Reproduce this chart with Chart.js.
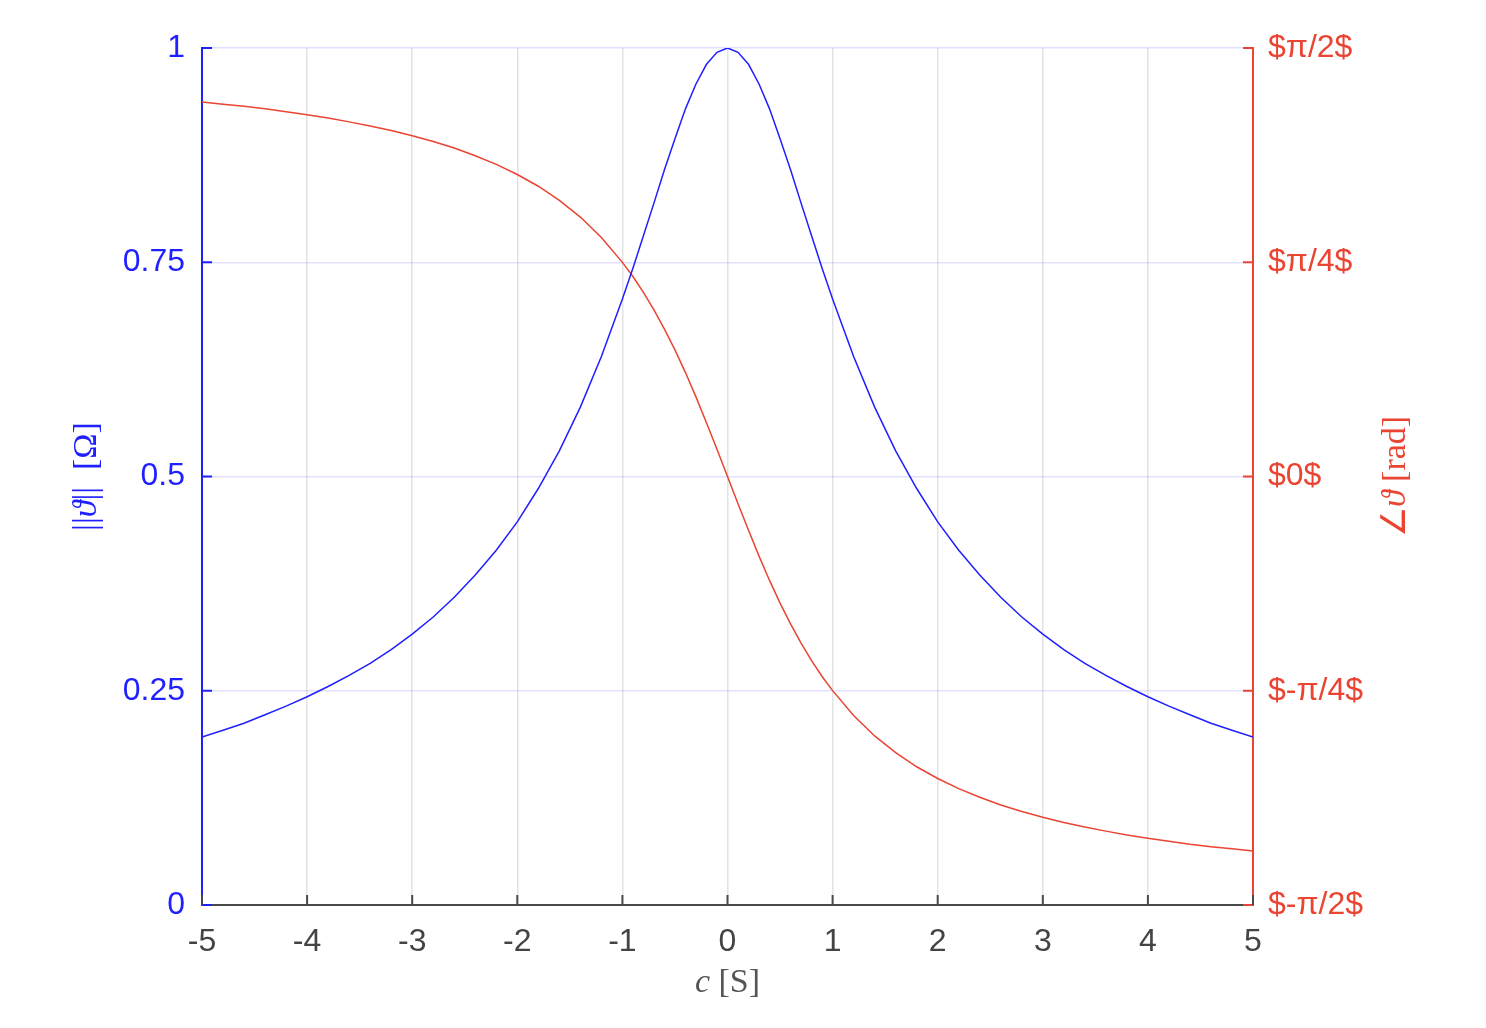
<!DOCTYPE html>
<html>
<head>
<meta charset="utf-8">
<script src="https://cdn.jsdelivr.net/npm/chart.js@4.4.1/dist/chart.umd.min.js"></script>
<style>
html, body { margin: 0; padding: 0; background: #fff; }
#wrap { width: 1486px; height: 1028px; position: relative; }
</style>
</head>
<body>
<div id="wrap"><canvas id="chart_magnitudePhase"></canvas></div>
<script>
// values; finer steps near the peak
var cValues = [
    -5, -4.8, -4.6, -4.4, -4.2, -4, -3.8, -3.6, -3.4, -3.2, -3, -2.8, -2.6, -2.4, -2.2, -2, -1.8, -1.6, -1.4, -1.2,
    -1, -0.9, -0.8, -0.7, -0.6, -0.5, -0.4, -0.3, -0.2, -0.1,
    0, 0.1, 0.2, 0.3, 0.4, 0.5, 0.6, 0.7, 0.8, 0.9,
    1, 1.2, 1.4, 1.6, 1.8, 2, 2.2, 2.4, 2.6, 2.8, 3, 3.2, 3.4, 3.6, 3.8, 4, 4.2, 4.4, 4.6, 4.8, 5
];
var magnitude = [
    0.196, 0.204, 0.212, 0.222, 0.232, 0.243, 0.255, 0.268, 0.282, 0.298, 0.316, 0.336, 0.359, 0.385, 0.414, 0.447, 0.486, 0.530, 0.581, 0.640,
    0.707, 0.743, 0.781, 0.819, 0.858, 0.894, 0.929, 0.958, 0.981, 0.995,
    1.000, 0.995, 0.981, 0.958, 0.929, 0.894, 0.858, 0.819, 0.781, 0.743,
    0.707, 0.640, 0.581, 0.530, 0.486, 0.447, 0.414, 0.385, 0.359, 0.336, 0.316, 0.298, 0.282, 0.268, 0.255, 0.243, 0.232, 0.222, 0.212, 0.204, 0.196
];
var phase = [
    1.373, 1.365, 1.357, 1.348, 1.337, 1.326, 1.314, 1.300, 1.285, 1.268, 1.249, 1.228, 1.204, 1.176, 1.144, 1.107, 1.064, 1.012, 0.951, 0.876,
    0.785, 0.733, 0.675, 0.611, 0.540, 0.464, 0.381, 0.292, 0.197, 0.100,
    0, -0.100, -0.197, -0.292, -0.381, -0.464, -0.540, -0.611, -0.675, -0.733,
    -0.785, -0.876, -0.951, -1.012, -1.064, -1.107, -1.144, -1.176, -1.204, -1.228, -1.249, -1.268, -1.285, -1.300, -1.314, -1.326, -1.337, -1.348, -1.357, -1.365, -1.373
];
var magTicks = [0, 0.25, 0.5, 0.75, 1];
var magTickLabels = ['0', '0.25', '0.5', '0.75', '1'];
var phaseTicks = [-1.5708, -0.7854, 0, 0.7854, 1.5708];
var phaseTickLabels = ['$-\u03c0/2$', '$-\u03c0/4$', '$0$', '$\u03c0/4$', '$\u03c0/2$'];
var cTicks = [-5, -4, -3, -2, -1, 0, 1, 2, 3, 4, 5];

var BLUE = '#1f1fff';
var RED = '#ea4433';
var GREY = '#444444';
var TICK_FONT = { family: '"Liberation Sans", Arial, sans-serif', size: 32 };
var TITLE_FAMILY = '"Liberation Serif", "Times New Roman", serif';

function pairs(xs, ys) {
    return xs.map(function (x, i) { return { x: x, y: ys[i] }; });
}

// draws a title made of normal / italic pieces, centred on (cx, cy)
function drawTitle(ctx, parts, cx, cy, rot, color, size) {
    ctx.save();
    ctx.translate(cx, cy);
    ctx.rotate(rot);
    ctx.fillStyle = color;
    ctx.textBaseline = 'middle';
    ctx.textAlign = 'left';
    var total = 0;
    parts.forEach(function (p) {
        ctx.font = (p.italic ? 'italic ' : '') + size + 'px ' + TITLE_FAMILY;
        p.w = ctx.measureText(p.text).width;
        total += p.w;
    });
    var x = -total / 2;
    parts.forEach(function (p) {
        ctx.font = (p.italic ? 'italic ' : '') + size + 'px ' + TITLE_FAMILY;
        ctx.fillText(p.text, x, 0);
        x += p.w;
    });
    ctx.restore();
}

var chart_magnitudePhase = new Chart(document.getElementById('chart_magnitudePhase'), {
    type: 'line',
    data: {
        datasets: [
            {
                label: 'magnitude',
                data: pairs(cValues, magnitude),
                yAxisID: 'y',
                borderColor: BLUE,
                borderWidth: 1.5,
                pointRadius: 0,
                tension: 0
            },
            {
                label: 'phase',
                data: pairs(cValues, phase),
                yAxisID: 'y2',
                borderColor: RED,
                borderWidth: 1.5,
                pointRadius: 0,
                tension: 0
            }
        ]
    },
    options: {
        animation: false,
        responsive: true,
        maintainAspectRatio: false,
        layout: { padding: { top: 48, left: 0, right: 0, bottom: 0 } },
        plugins: {
            legend: { display: false },
            tooltip: { enabled: false }
        },
        scales: {
            x: {
                type: 'linear',
                min: -5,
                max: 5,
                afterBuildTicks: function (scale) {
                    scale.ticks = cTicks.map(function (v) { return { value: v }; });
                },
                afterFit: function (scale) { scale.height = 123; },
                ticks: {
                    color: GREY,
                    font: TICK_FONT,
                    padding: 18,
                    maxRotation: 0,
                    autoSkip: false,
                    callback: function (value) { return String(value); }
                },
                grid: { color: '#e3e3e3', lineWidth: 1.5, drawTicks: false },
                border: { color: '#4a4a4a', width: 2 }
            },
            y: {
                type: 'linear',
                position: 'left',
                min: 0,
                max: 1,
                afterBuildTicks: function (scale) {
                    scale.ticks = magTicks.map(function (v) { return { value: v }; });
                },
                afterFit: function (scale) { scale.width = 202; },
                ticks: {
                    color: BLUE,
                    font: TICK_FONT,
                    padding: 17,
                    callback: function (value, index) { return magTickLabels[index]; }
                },
                grid: { color: 'rgba(40,40,255,0.14)', lineWidth: 1.5, drawTicks: false },
                border: { color: BLUE, width: 2 }
            },
            y2: {
                type: 'linear',
                position: 'right',
                min: -1.5708,
                max: 1.5708,
                afterBuildTicks: function (scale) {
                    scale.ticks = phaseTicks.map(function (v) { return { value: v }; });
                },
                afterFit: function (scale) { scale.width = 233; },
                ticks: {
                    color: RED,
                    font: TICK_FONT,
                    padding: 15,
                    callback: function (value, index) { return phaseTickLabels[index]; }
                },
                grid: { drawOnChartArea: false, drawTicks: false },
                border: { color: RED, width: 2 }
            }
        }
    },
    plugins: [{
        id: 'insideTicksAndTitles',
        afterDraw: function (chart) {
            var ctx = chart.ctx;
            var area = chart.chartArea;
            var len = 10;
            ctx.save();
            ctx.lineWidth = 2;
            ctx.strokeStyle = BLUE;
            magTicks.forEach(function (v) {
                var y = chart.scales.y.getPixelForValue(v);
                ctx.beginPath(); ctx.moveTo(area.left, y); ctx.lineTo(area.left + len, y); ctx.stroke();
            });
            ctx.strokeStyle = RED;
            phaseTicks.forEach(function (v) {
                var y = chart.scales.y2.getPixelForValue(v);
                ctx.beginPath(); ctx.moveTo(area.right, y); ctx.lineTo(area.right - len, y); ctx.stroke();
            });
            ctx.strokeStyle = '#4a4a4a';
            cTicks.forEach(function (v) {
                var x = chart.scales.x.getPixelForValue(v);
                ctx.beginPath(); ctx.moveTo(x, area.bottom); ctx.lineTo(x, area.bottom - len); ctx.stroke();
            });
            ctx.restore();

            var midY = (area.top + area.bottom) / 2;
            drawTitle(ctx, [{ text: 'c', italic: true }, { text: ' [S]' }],
                (area.left + area.right) / 2, area.bottom + 78, 0, '#555555', 34);
            drawTitle(ctx, [{ text: '||' }, { text: '\u03d1', italic: true }, { text: '||  [\u03a9]' }],
                87, midY, -Math.PI / 2, BLUE, 34);
            drawTitle(ctx, [{ text: '\u2220' }, { text: '\u03d1', italic: true }, { text: ' [rad]' }],
                1396, midY, -Math.PI / 2, RED, 34);
        }
    }]
});
</script>
</body>
</html>
